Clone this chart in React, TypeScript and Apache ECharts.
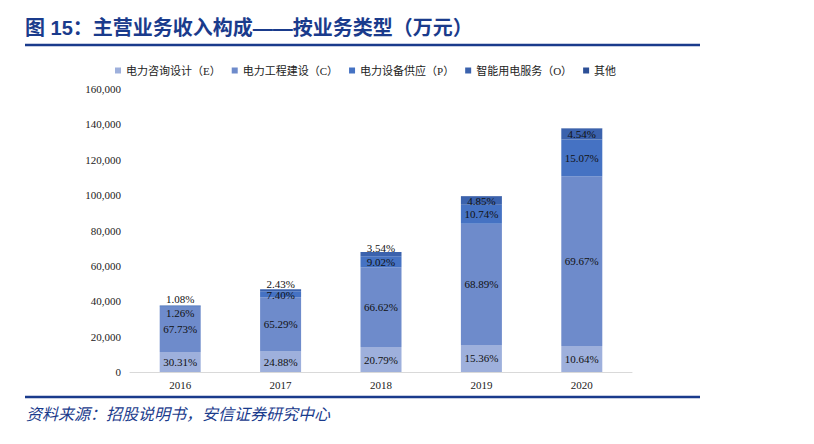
import React from "react";
import * as echarts from "echarts";

// ---------- data (万元) ----------
const years = ["2016", "2017", "2018", "2019", "2020"];
const seriesNames = ["电力咨询设计（E）", "电力工程建设（C）", "电力设备供应（P）", "智能用电服务（O）", "其他"];

const consultE = [11366, 11644, 14096, 15283, 14662];
const engineeringC = [25399, 30556, 45168, 68546, 96005];
const equipmentP = [473, 3463, 6116, 10686, 20766];
const smartO = [405, 1137, 2400, 4826, 6256];
const others = [0, 0, 20, 160, 110];

const pctE = ["30.31%", "24.88%", "20.79%", "15.36%", "10.64%"];
const pctC = ["67.73%", "65.29%", "66.62%", "68.89%", "69.67%"];
const pctP = ["1.26%", "7.40%", "9.02%", "10.74%", "15.07%"];
const pctO = ["1.08%", "2.43%", "3.54%", "4.85%", "4.54%"];

// vertical nudges so the tiny segments' labels don't collide
const offsetP = [6, 1, 0, 0, 0];
const offsetO = [-7, -6, -6, 0, 0];

const colors = ["#9eb0dc", "#6e8bcb", "#4572c3", "#3b62ad", "#2c4f96"];

const NAVY = "#1a3b8c";
const SERIF = "'Liberation Serif', 'Noto Sans CJK SC', serif";

function build(values: number[], labels: string[] | null, offsets?: number[]) {
  return values.map((v, i) => ({
    value: v,
    label: labels
      ? { show: true, formatter: labels[i], offset: [0, offsets ? offsets[i] : 0] }
      : { show: false },
  }));
}

export default function App() {
  const ref = React.useRef<HTMLDivElement>(null);

  React.useEffect(() => {
    document.body.style.margin = "0";
    const el = ref.current;
    if (!el) return;
    const chart = echarts.init(el, undefined, { renderer: "svg" });

    const barBase = {
      type: "bar" as const,
      stack: "total",
      barWidth: 41,
      label: {
        show: true,
        position: "inside" as const,
        color: "#111",
        fontSize: 11,
        fontFamily: SERIF,
      },
    };

    chart.setOption({
      animation: false,
      color: colors,
      legend: {
        left: 110,
        top: 60,
        icon: "rect",
        itemWidth: 6,
        itemHeight: 6,
        itemGap: 11,
        textStyle: { fontSize: 11, color: "#222", fontFamily: SERIF },
        data: seriesNames,
      },
      grid: { left: 130, right: 182, top: 89, bottom: 72 },
      xAxis: {
        type: "category",
        data: years,
        axisLine: { lineStyle: { color: "#d9d9d9", width: 1 } },
        axisTick: { show: false },
        axisLabel: { color: "#222", fontSize: 11, fontFamily: SERIF, margin: 7 },
      },
      yAxis: {
        type: "value",
        min: 0,
        max: 160000,
        interval: 20000,
        axisLine: { show: false },
        axisTick: { show: false },
        splitLine: { show: false },
        axisLabel: {
          color: "#222",
          fontSize: 11,
          fontFamily: SERIF,
          margin: 9,
          formatter: (v: number) => v.toLocaleString("en-US"),
        },
      },
      series: [
        { ...barBase, name: seriesNames[0], data: build(consultE, pctE) },
        { ...barBase, name: seriesNames[1], data: build(engineeringC, pctC) },
        { ...barBase, name: seriesNames[2], data: build(equipmentP, pctP, offsetP) },
        { ...barBase, name: seriesNames[3], data: build(smartO, pctO, offsetO) },
        { ...barBase, name: seriesNames[4], data: build(others, null) },
      ],
      graphic: [
        {
          type: "text",
          left: 25,
          top: 18,
          style: {
            text: "图 15：主营业务收入构成——按业务类型（万元）",
            fill: NAVY,
            fontSize: 20,
            fontWeight: "bold",
            fontFamily: "'Liberation Sans', 'Noto Sans CJK SC', sans-serif",
          },
        },
        {
          type: "line",
          shape: { x1: 25, y1: 45, x2: 700, y2: 45 },
          style: { stroke: NAVY, lineWidth: 2.5 },
        },
        {
          type: "line",
          shape: { x1: 25, y1: 397, x2: 700, y2: 397 },
          style: { stroke: NAVY, lineWidth: 2.5 },
        },
        {
          type: "text",
          left: 26,
          top: 405,
          style: {
            text: "资料来源：招股说明书，安信证券研究中心",
            fill: NAVY,
            fontSize: 16,
            fontStyle: "italic",
            fontFamily: "'Noto Sans CJK SC', sans-serif",
          },
        },
      ],
    });

    return () => chart.dispose();
  }, []);

  return <div ref={ref} style={{ width: 814, height: 444 }} />;
}
